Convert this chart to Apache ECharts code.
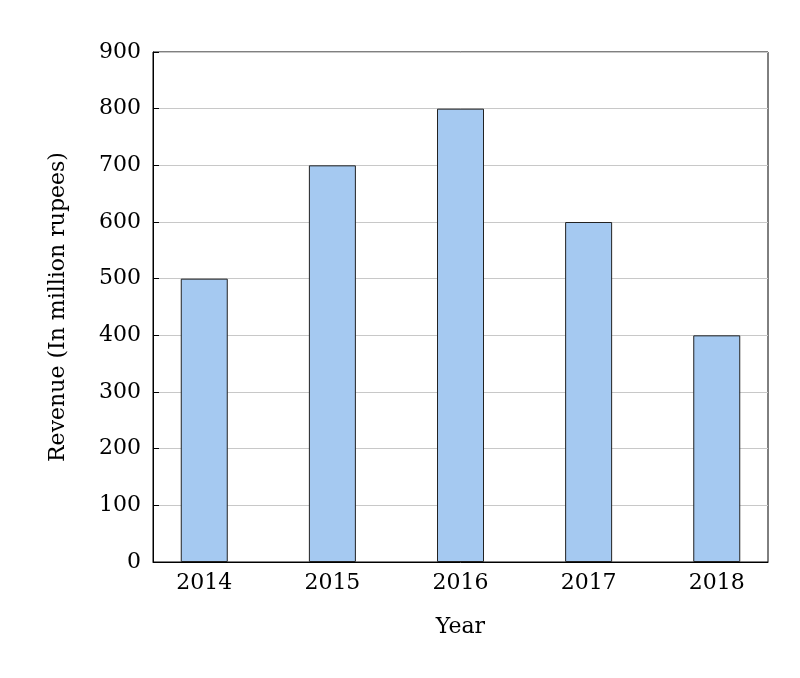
<!DOCTYPE html>
<html><head><meta charset="utf-8">
<script src="https://cdn.jsdelivr.net/npm/echarts@6/dist/echarts.min.js"></script>
<style>html,body{margin:0;padding:0;background:#fff}#c{width:800px;height:678px}</style>
</head><body><div id="c"></div>
<script>
const years = [2014, 2015, 2016, 2017, 2018];
const revenue = [500, 700, 800, 600, 400];
const yTicks = [0,100,200,300,400,500,600,700,800,900];
const font = 'DejaVu Serif';
const chart = echarts.init(document.getElementById('c'));
const axisLine = {show:true, lineStyle:{color:'#000', width:1}};
chart.setOption({
  animation:false,
  grid:{left:153, right:32, top:52, bottom:116, show:true, borderColor:'#000', borderWidth:1},
  xAxis:[{
    type:'value', min:2013.6, max:2018.4,
    axisLine, splitLine:{show:false},
    axisTick:{show:true, inside:true, length:6, lineStyle:{color:'#000'}, customValues: years},
    axisLabel:{customValues: years, fontFamily:font, fontSize:22, color:'#000', margin:10, formatter:v=>String(v)},
    name:'Year', nameLocation:'middle', nameGap:54, nameTextStyle:{fontFamily:font, fontSize:22, color:'#000'}
  }],
  yAxis:[{
    type:'value', min:0, max:900, interval:100,
    axisLine, axisTick:{show:true, inside:true, length:6, lineStyle:{color:'#000'}},
    splitLine:{show:true, lineStyle:{color:'#c8c8c8', width:1}},
    axisLabel:{fontFamily:font, fontSize:22, color:'#000', margin:12, formatter:v=>yTicks.includes(v)?String(v):''},
    name:'Revenue (In million rupees)', nameLocation:'middle', nameGap:84, nameRotate:90,
    nameTextStyle:{fontFamily:font, fontSize:22, color:'#000'}
  }],
  series:[{
    type:'bar', barWidth:47,
    data: years.map((y,i)=>[y, revenue[i]]),
    itemStyle:{color:'#a5c9f1', borderColor:'#222', borderWidth:1}
  }]
});
</script></body></html>
